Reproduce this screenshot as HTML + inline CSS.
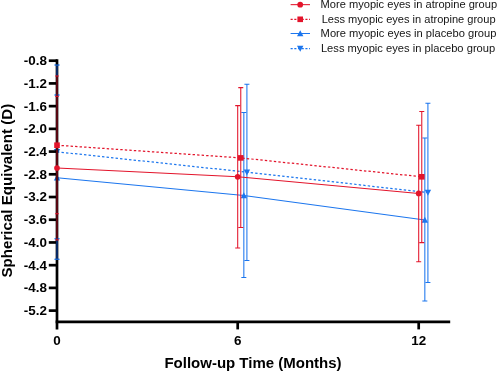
<!DOCTYPE html>
<html lang="en"><head><meta charset="utf-8"><title>Spherical Equivalent vs Follow-up Time</title>
<style>html,body{margin:0;padding:0;background:#fff;overflow:hidden}</style></head>
<body>
<svg width="500" height="372" viewBox="0 0 500 372" style="display:block">
<rect width="500" height="372" fill="#fff"/>
<path d="M57.00 95 V259.25 M54.50 95 H59.50 M54.50 259.25 H59.50" stroke="#1c76ee" stroke-width="1.05" fill="none"/>
<path d="M243.84 112.5 V277.5 M241.34 112.5 H246.34 M241.34 277.5 H246.34" stroke="#1c76ee" stroke-width="1.05" fill="none"/>
<path d="M424.84 138 V301 M422.34 138 H427.34 M422.34 301 H427.34" stroke="#1c76ee" stroke-width="1.05" fill="none"/>
<path d="M57.00 177.7 L243.84 195.5 L424.84 220.0" stroke="#1c76ee" fill="none" stroke-width="1.05"/>
<polygon points="57.00,174.50 60.20,180.50 53.80,180.50" fill="#1c76ee"/>
<polygon points="243.84,192.30 247.04,198.30 240.64,198.30" fill="#1c76ee"/>
<polygon points="424.84,216.80 428.04,222.80 421.64,222.80" fill="#1c76ee"/>
<path d="M57.00 65 V238.8 M54.50 65 H59.50 M54.50 238.8 H59.50" stroke="#1c76ee" stroke-width="1.05" fill="none"/>
<path d="M246.91 84.3 V260.5 M244.41 84.3 H249.41 M244.41 260.5 H249.41" stroke="#1c76ee" stroke-width="1.05" fill="none"/>
<path d="M427.91 103.25 V282.5 M425.41 103.25 H430.41 M425.41 282.5 H430.41" stroke="#1c76ee" stroke-width="1.05" fill="none"/>
<path d="M57.00 151.8 L246.91 172.2 L427.91 192.5" stroke="#1c76ee" fill="none" stroke-dasharray="2.4 2.13" stroke-width="1.25"/>
<polygon points="57.00,155.00 60.20,149.00 53.80,149.00" fill="#1c76ee"/>
<polygon points="246.91,175.40 250.11,169.40 243.71,169.40" fill="#1c76ee"/>
<polygon points="427.91,195.70 431.11,189.70 424.71,189.70" fill="#1c76ee"/>
<g stroke="#000" stroke-width="2.7" fill="none">
<path d="M57.0 59.35 V329.4"/>
<path d="M55.65 321.9 H450.2"/>
<path d="M48.8 60.70 H57.0"/>
<path d="M48.8 83.42 H57.0"/>
<path d="M48.8 106.14 H57.0"/>
<path d="M48.8 128.86 H57.0"/>
<path d="M48.8 151.58 H57.0"/>
<path d="M48.8 174.30 H57.0"/>
<path d="M48.8 197.02 H57.0"/>
<path d="M48.8 219.74 H57.0"/>
<path d="M48.8 242.46 H57.0"/>
<path d="M48.8 265.18 H57.0"/>
<path d="M48.8 287.90 H57.0"/>
<path d="M48.8 310.62 H57.0"/>
<path d="M237.7 321.9 V329.4"/>
<path d="M418.7 321.9 V329.4"/>
</g>
<path d="M57.0 65 V76 M57.0 239.9 V259.25" stroke="#0c3a8a" stroke-width="1.6" opacity="0.9"/>
<path d="M54.7 65 H59.3 M54.7 95 H59.3 M54.7 238.8 H59.3 M54.7 259.25 H59.3" stroke="#1c76ee" stroke-width="1.0"/>
<path d="M57.0 76 V239.9" stroke="#7a0a18" stroke-width="1.6" opacity="0.9"/>
<path d="M55.1 76 H58.9 M55.1 96.4 H58.9 M55.1 213.75 H58.9 M55.1 239.9 H58.9" stroke="#e3142b" stroke-width="1.0"/>
<path d="M237.70 105.6 V248 M235.20 105.6 H240.20 M235.20 248 H240.20" stroke="#e3142b" stroke-width="1.05" fill="none"/>
<path d="M418.70 125.2 V261.8 M416.20 125.2 H421.20 M416.20 261.8 H421.20" stroke="#e3142b" stroke-width="1.05" fill="none"/>
<path d="M57.00 168 L237.70 176.8 L418.70 193.4" stroke="#e3142b" fill="none" stroke-width="1.05"/>
<circle cx="57.00" cy="168.00" r="2.85" fill="#e3142b"/>
<circle cx="237.70" cy="176.80" r="2.85" fill="#e3142b"/>
<circle cx="418.70" cy="193.40" r="2.85" fill="#e3142b"/>
<path d="M240.77 87.6 V227.5 M238.27 87.6 H243.27 M238.27 227.5 H243.27" stroke="#e3142b" stroke-width="1.05" fill="none"/>
<path d="M421.77 111.5 V242.6 M419.27 111.5 H424.27 M419.27 242.6 H424.27" stroke="#e3142b" stroke-width="1.05" fill="none"/>
<path d="M57.00 145.2 L240.77 157.9 L421.77 176.8" stroke="#e3142b" fill="none" stroke-dasharray="2.4 2.13" stroke-width="1.25"/>
<rect x="54.20" y="142.40" width="5.60" height="5.60" fill="#e3142b"/>
<rect x="237.97" y="155.10" width="5.60" height="5.60" fill="#e3142b"/>
<rect x="418.97" y="174.00" width="5.60" height="5.60" fill="#e3142b"/>
<path d="M290.6 4.65 H310.0" stroke="#e3142b" stroke-width="1.05"/>
<circle cx="300.20" cy="4.65" r="2.85" fill="#e3142b"/>
<text transform="translate(320.6 8.00) scale(0.966 1)" font-family="Liberation Sans, Arial, sans-serif" font-size="11.5" fill="#141414">More myopic eyes in atropine group</text>
<path d="M290.6 19.3 H310.0" stroke="#e3142b" stroke-dasharray="2.1 1.6" stroke-dashoffset="0" stroke-width="1.3"/>
<rect x="297.40" y="16.50" width="5.60" height="5.60" fill="#e3142b"/>
<text transform="translate(321.7 23.00) scale(0.963 1)" font-family="Liberation Sans, Arial, sans-serif" font-size="11.5" fill="#141414">Less myopic eyes in atropine group</text>
<path d="M290.6 33.5 H310.0" stroke="#1c76ee" stroke-width="1.05"/>
<polygon points="300.20,30.30 303.40,36.30 297.00,36.30" fill="#1c76ee"/>
<text transform="translate(320.6 37.30) scale(0.97 1)" font-family="Liberation Sans, Arial, sans-serif" font-size="11.5" fill="#141414">More myopic eyes in placebo group</text>
<path d="M290.6 48.6 H310.0" stroke="#1c76ee" stroke-dasharray="2.1 1.6" stroke-dashoffset="0" stroke-width="1.3"/>
<polygon points="300.20,51.80 303.40,45.80 297.00,45.80" fill="#1c76ee"/>
<text transform="translate(320.9 52.45) scale(0.971 1)" font-family="Liberation Sans, Arial, sans-serif" font-size="11.5" fill="#141414">Less myopic eyes in placebo group</text>
<text transform="translate(46.9 65.10) scale(1.12 1)" text-anchor="end" font-family="Liberation Sans, Arial, sans-serif" font-weight="bold" font-size="12" fill="#000">-0.8</text>
<text transform="translate(46.9 87.82) scale(1.12 1)" text-anchor="end" font-family="Liberation Sans, Arial, sans-serif" font-weight="bold" font-size="12" fill="#000">-1.2</text>
<text transform="translate(46.9 110.54) scale(1.12 1)" text-anchor="end" font-family="Liberation Sans, Arial, sans-serif" font-weight="bold" font-size="12" fill="#000">-1.6</text>
<text transform="translate(46.9 133.26) scale(1.12 1)" text-anchor="end" font-family="Liberation Sans, Arial, sans-serif" font-weight="bold" font-size="12" fill="#000">-2.0</text>
<text transform="translate(46.9 155.98) scale(1.12 1)" text-anchor="end" font-family="Liberation Sans, Arial, sans-serif" font-weight="bold" font-size="12" fill="#000">-2.4</text>
<text transform="translate(46.9 178.70) scale(1.12 1)" text-anchor="end" font-family="Liberation Sans, Arial, sans-serif" font-weight="bold" font-size="12" fill="#000">-2.8</text>
<text transform="translate(46.9 201.42) scale(1.12 1)" text-anchor="end" font-family="Liberation Sans, Arial, sans-serif" font-weight="bold" font-size="12" fill="#000">-3.2</text>
<text transform="translate(46.9 224.14) scale(1.12 1)" text-anchor="end" font-family="Liberation Sans, Arial, sans-serif" font-weight="bold" font-size="12" fill="#000">-3.6</text>
<text transform="translate(46.9 246.86) scale(1.12 1)" text-anchor="end" font-family="Liberation Sans, Arial, sans-serif" font-weight="bold" font-size="12" fill="#000">-4.0</text>
<text transform="translate(46.9 269.58) scale(1.12 1)" text-anchor="end" font-family="Liberation Sans, Arial, sans-serif" font-weight="bold" font-size="12" fill="#000">-4.4</text>
<text transform="translate(46.9 292.30) scale(1.12 1)" text-anchor="end" font-family="Liberation Sans, Arial, sans-serif" font-weight="bold" font-size="12" fill="#000">-4.8</text>
<text transform="translate(46.9 315.02) scale(1.12 1)" text-anchor="end" font-family="Liberation Sans, Arial, sans-serif" font-weight="bold" font-size="12" fill="#000">-5.2</text>
<text transform="translate(57.0 344.7) scale(1.12 1)" text-anchor="middle" font-family="Liberation Sans, Arial, sans-serif" font-weight="bold" font-size="12" fill="#000">0</text>
<text transform="translate(237.7 344.7) scale(1.12 1)" text-anchor="middle" font-family="Liberation Sans, Arial, sans-serif" font-weight="bold" font-size="12" fill="#000">6</text>
<text transform="translate(418.7 344.7) scale(1.12 1)" text-anchor="middle" font-family="Liberation Sans, Arial, sans-serif" font-weight="bold" font-size="12" fill="#000">12</text>
<text x="253" y="367.8" text-anchor="middle" font-family="Liberation Sans, Arial, sans-serif" font-weight="bold" font-size="15" fill="#000">Follow-up Time (Months)</text>
<text transform="translate(12.2 190.65) rotate(-90)" text-anchor="middle" font-family="Liberation Sans, Arial, sans-serif" font-weight="bold" font-size="15.1" fill="#000">Spherical Equivalent (D)</text>
</svg>
</body></html>
